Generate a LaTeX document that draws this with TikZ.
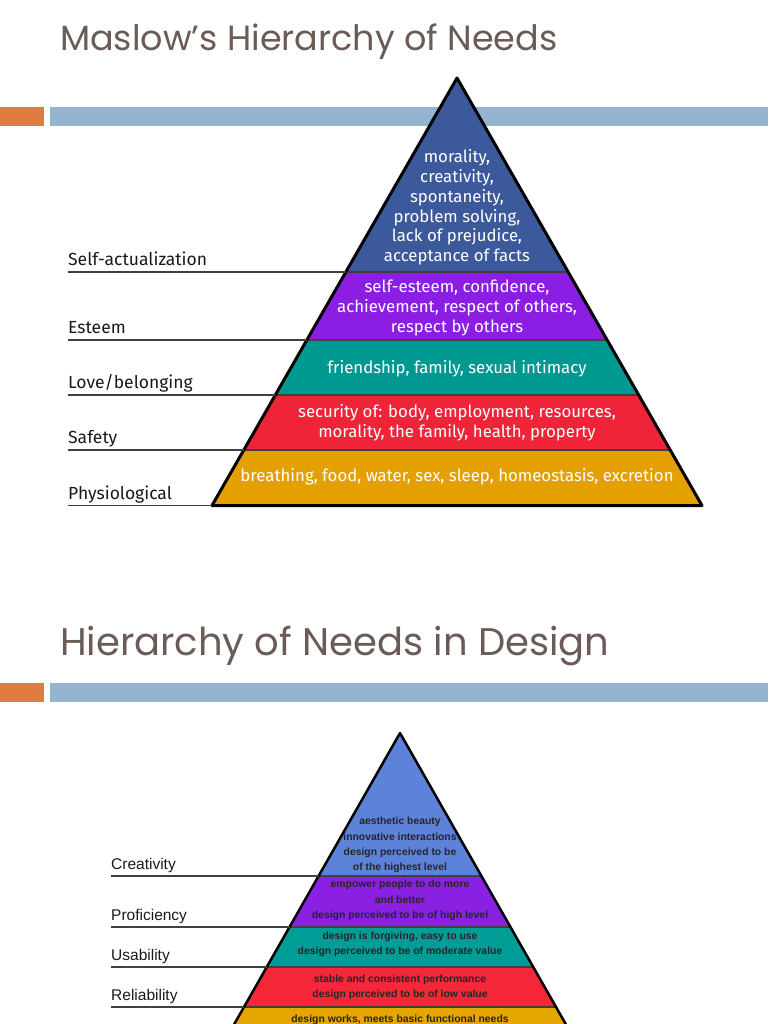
\documentclass[tikz,border=0pt]{standalone}
\usepackage{fontspec}
\usetikzlibrary{calc}
\newfontfamily\titlefont{Poppins}
\newfontfamily\dinfont{Fira Sans}
\newfontfamily\arialfont{Liberation Sans}
\definecolor{titlegray}{RGB}{107,91,86}
\definecolor{barorange}{RGB}{224,124,64}
\definecolor{barblue}{RGB}{148,180,210}
% colori piramide 1
\definecolor{mblue}{RGB}{60,90,155}
\definecolor{mpurple}{RGB}{140,30,228}
\definecolor{mteal}{RGB}{0,153,145}
\definecolor{mred}{RGB}{240,36,56}
\definecolor{mgold}{RGB}{228,160,0}
% colori piramide 2
\definecolor{dblue}{RGB}{92,130,218}
\definecolor{dpurple}{RGB}{138,32,226}
\definecolor{dteal}{RGB}{0,156,150}
\definecolor{dred}{RGB}{244,40,56}
\definecolor{dgold}{RGB}{230,166,0}
\tikzset{
    titletext/.style={anchor=base west, inner sep=0, text=titlegray},
    levelsep/.style={black!75, line width=1.6pt},
    labelline/.style={black!75, line width=1.7pt},
    outline/.style={black, line width=3pt, line join=round},
    lbltop/.style={anchor=base west, inner sep=0, text=black!90,
        font=\dinfont\fontsize{17.5}{17.5}\selectfont},
    txttop/.style={align=center, inner sep=0, text=white,
        font=\dinfont\fontsize{16.8}{19.8}\selectfont},
    lbldesign/.style={anchor=base west, inner sep=0, text=black!90,
        font=\arialfont\fontsize{15.5}{15.5}\selectfont},
    txtdesign/.style={align=center, inner sep=0, text=black!85,
        font=\arialfont\bfseries\fontsize{10.4}{15.2}\selectfont}
}
\begin{document}
\begin{tikzpicture}[x=1pt,y=-1pt]
    \useasboundingbox (0,0) rectangle (768,1024);
    \clip (0,0) rectangle (768,1024);

    % --- Slide 1: piramide di Maslow ---
    % Titolo e barra
    \node[titletext, font=\titlefont\fontsize{35}{35}\selectfont] (title1) at (60,51) {Maslow’s Hierarchy of Needs};
    \fill[barorange] (0,107) rectangle (44,126);
    \fill[barblue] (50,107) rectangle (768,126);

    % Fasce colorate
    \coordinate (apex1) at (457,78);
    \coordinate (bl1) at (212,505.5);
    \coordinate (br1) at (702,505.5);
    \begin{scope}
        \clip (apex1) -- (bl1) -- (br1) -- cycle;
        \fill[mblue] (0,70) rectangle (768,272);
        \fill[mpurple] (0,272) rectangle (768,340);
        \fill[mteal] (0,340) rectangle (768,395);
        \fill[mred] (0,395) rectangle (768,450);
        \fill[mgold] (0,450) rectangle (768,506);
        \foreach \y in {272,340,395,450}
            \draw[levelsep] (0,\y) -- (768,\y);
    \end{scope}
    \draw[outline] (apex1) -- (bl1) -- (br1) -- cycle;

    % Linee delle etichette
    \foreach \y/\n in {272/a,340/b,395/c,450/d,505.5/e} {
        \coordinate (l1\n) at (68,\y);
        \coordinate (e1\n) at ($(apex1)!{(\y-78)/427.5}!(bl1)$);
        \draw[labelline] (l1\n) -- (e1\n);
    }

    % Etichette
    \node[lbltop] (selfact) at (68,265.5) {Self-actualization};
    \node[lbltop] (esteem) at (68,333.5) {Esteem};
    \node[lbltop] (love) at (68,388.5) {Love/belonging};
    \node[lbltop] (safety) at (68,443.5) {Safety};
    \node[lbltop] (physio) at (68,499) {Physiological};

    % Testi nelle fasce
    \node[txttop] (selfacttxt) at (457,207.5) {morality,\\creativity,\\spontaneity,\\problem solving,\\lack of prejudice,\\acceptance of facts};
    \node[txttop] (esteemtxt) at (457,308) {self-esteem, confidence,\\achievement, respect of others,\\respect by others};
    \node[txttop] (lovetxt) at (457,369) {friendship, family, sexual intimacy};
    \node[txttop] (safetytxt) at (457,422.5) {security of: body, employment, resources,\\morality, the family, health, property};
    \node[txttop] (physiotxt) at (457,477) {breathing, food, water, sex, sleep, homeostasis, excretion};

    % --- Slide 2: piramide nel design ---
    % Titolo e barra
    \node[titletext, font=\titlefont\fontsize{38.5}{38.5}\selectfont] (title2) at (60,655) {Hierarchy of Needs in Design};
    \fill[barorange] (0,683) rectangle (44,702);
    \fill[barblue] (50,683) rectangle (768,702);

    % Fasce colorate
    \coordinate (apex2) at (400,733);
    \coordinate (bl2) at (219.5,1050);
    \coordinate (br2) at (580.5,1050);
    \begin{scope}
        \clip (apex2) -- (bl2) -- (br2) -- cycle;
        \fill[dblue] (0,725) rectangle (768,876);
        \fill[dpurple] (0,876) rectangle (768,927);
        \fill[dteal] (0,927) rectangle (768,967);
        \fill[dred] (0,967) rectangle (768,1007);
        \fill[dgold] (0,1007) rectangle (768,1051);
        \foreach \y in {876,927,967,1007}
            \draw[levelsep] (0,\y) -- (768,\y);
    \end{scope}
    \draw[outline, line width=2.5pt] (apex2) -- (bl2) -- (br2) -- cycle;

    % Linee delle etichette
    \foreach \y/\n in {876/a,927/b,967/c,1007/d} {
        \coordinate (l2\n) at (111,\y);
        \coordinate (e2\n) at ($(apex2)!{(\y-733)/317}!(bl2)$);
        \draw[labelline] (l2\n) -- (e2\n);
    }

    % Etichette
    \node[lbldesign] (creativity) at (111,869.5) {Creativity};
    \node[lbldesign] (proficiency) at (111,920.5) {Proficiency};
    \node[lbldesign] (usability) at (111,960.5) {Usability};
    \node[lbldesign] (reliability) at (111,1000.5) {Reliability};

    % Testi nelle fasce
    \node[txtdesign] (creativitytxt) at (400,845) {aesthetic beauty\\innovative interactions\\design perceived to be\\of the highest level};
    \node[txtdesign] (proficiencytxt) at (400,900.5) {empower people to do more\\and better\\design perceived to be of high level};
    \node[txtdesign] (usabilitytxt) at (400,944.5) {design is forgiving, easy to use\\design perceived to be of moderate value};
    \node[txtdesign] (reliabilitytxt) at (400,987.5) {stable and consistent performance\\design perceived to be of low value};
    \node[txtdesign] (functiontxt) at (400,1020) {design works, meets basic functional needs};
\end{tikzpicture}
\end{document}
